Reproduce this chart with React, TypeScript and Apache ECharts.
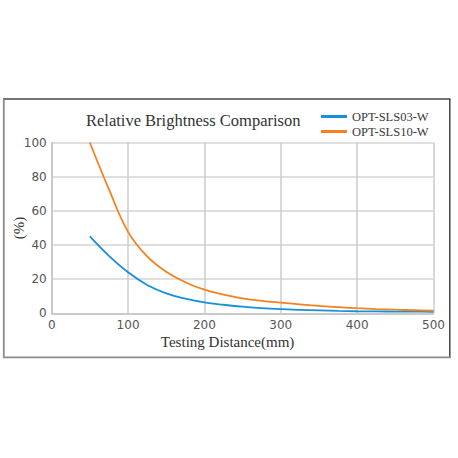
import React, { useEffect, useRef } from "react";
import * as echarts from "echarts";

const distances = [50, 75, 100, 125, 150, 175, 200, 225, 250, 275, 300, 325, 350, 375, 400, 425, 450, 475, 500];
const sls03 = [45, 33.6, 24, 16.6, 11.7, 8.6, 6.4, 5.0, 3.9, 3.0, 2.4, 2.0, 1.7, 1.4, 1.2, 1.1, 1.0, 0.95, 0.9];
const sls10 = [100, 72.5, 47.7, 33.3, 24.3, 18.2, 13.8, 11.0, 8.8, 7.3, 6.2, 5.2, 4.4, 3.6, 3.0, 2.5, 2.1, 1.8, 1.5];
const xTicks = [0, 100, 200, 300, 400, 500];
const yTicks = [0, 20, 40, 60, 80, 100];
const seriesNames = ["OPT-SLS03-W", "OPT-SLS10-W"];
const colors = ["#1590dc", "#f5821f"];

export default function App() {
  const ref = useRef<HTMLDivElement>(null);
  useEffect(() => {
    if (!ref.current) return;
    const chart = echarts.init(ref.current, undefined, { renderer: "svg" });
    const toPairs = (ys: number[]) => distances.map((d, i) => [d, ys[i]]);
    chart.setOption({
      animation: false,
      backgroundColor: "#ffffff",
      title: {
        text: "Relative Brightness Comparison",
        left: 86,
        top: 112,
        padding: 0,
        textStyle: {
          fontFamily: "Liberation Serif",
          fontSize: 16.5,
          fontWeight: "normal",
          color: "#333333",
        },
      },
      legend: {
        orient: "vertical",
        left: 321,
        top: 110,
        padding: 0,
        itemWidth: 26,
        itemHeight: 3,
        itemGap: 2,
        icon: "rect",
        data: seriesNames,
        textStyle: {
          fontFamily: "Liberation Serif",
          fontSize: 12.5,
          lineHeight: 13,
          color: "#3a3a3a",
        },
      },
      grid: {
        left: 51.7,
        right: 24.5,
        top: 142.5,
        bottom: 144.7,
        containLabel: false,
        outerBoundsMode: "none",
      },
      xAxis: {
        type: "value",
        min: xTicks[0],
        max: xTicks[xTicks.length - 1],
        interval: xTicks[1] - xTicks[0],
        name: "Testing Distance(mm)",
        nameLocation: "middle",
        nameGap: 21,
        nameMoveOverlap: false,
        nameTextStyle: {
          fontFamily: "Liberation Serif",
          fontSize: 15,
          color: "#333333",
          padding: [0, 30, 0, 0],
        },
        axisLine: { show: true, lineStyle: { color: "#c4c4c4", width: 1.5 } },
        axisTick: { show: false },
        axisLabel: {
          fontFamily: "DejaVu Sans",
          fontSize: 12,
          color: "#555555",
          margin: 6,
        },
        splitLine: { show: true, lineStyle: { color: "#cccccc", width: 1.5 } },
      },
      yAxis: {
        type: "value",
        min: yTicks[0],
        max: yTicks[yTicks.length - 1],
        interval: yTicks[1] - yTicks[0],
        name: "(%)",
        nameLocation: "middle",
        nameGap: 25,
        nameMoveOverlap: false,
        nameTextStyle: {
          fontFamily: "Liberation Serif",
          fontSize: 15,
          color: "#333333",
        },
        axisLine: { show: true, lineStyle: { color: "#c4c4c4", width: 1.5 } },
        axisTick: { show: false },
        axisLabel: {
          fontFamily: "DejaVu Sans",
          fontSize: 12,
          color: "#555555",
          margin: 5,
        },
        splitLine: { show: true, lineStyle: { color: "#d4d4d4", width: 1.5 } },
      },
      series: [
        {
          name: seriesNames[0],
          type: "line",
          data: toPairs(sls03),
          smooth: 0.4,
          showSymbol: false,
          color: colors[0],
          lineStyle: { color: colors[0], width: 1.8 },
        },
        {
          name: seriesNames[1],
          type: "line",
          data: toPairs(sls10),
          smooth: 0.4,
          showSymbol: false,
          color: colors[1],
          lineStyle: { color: colors[1], width: 1.8 },
        },
      ],
      graphic: [
        { type: "line", shape: { x1: 3, y1: 99, x2: 450.5, y2: 99 }, style: { stroke: "#444444", lineWidth: 1.5 } },
        { type: "line", shape: { x1: 449.8, y1: 99, x2: 449.8, y2: 358 }, style: { stroke: "#444444", lineWidth: 1.5 } },
        { type: "line", shape: { x1: 3.8, y1: 99, x2: 3.8, y2: 358 }, style: { stroke: "#8c8c8c", lineWidth: 1.8 } },
        { type: "line", shape: { x1: 3, y1: 357.3, x2: 450.5, y2: 357.3 }, style: { stroke: "#8c8c8c", lineWidth: 1.8 } },
      ],
    });
    return () => chart.dispose();
  }, []);
  return (
    <div
      ref={ref}
      style={{ position: "fixed", left: 0, top: 0, width: 458, height: 458, background: "#fff" }}
    />
  );
}
